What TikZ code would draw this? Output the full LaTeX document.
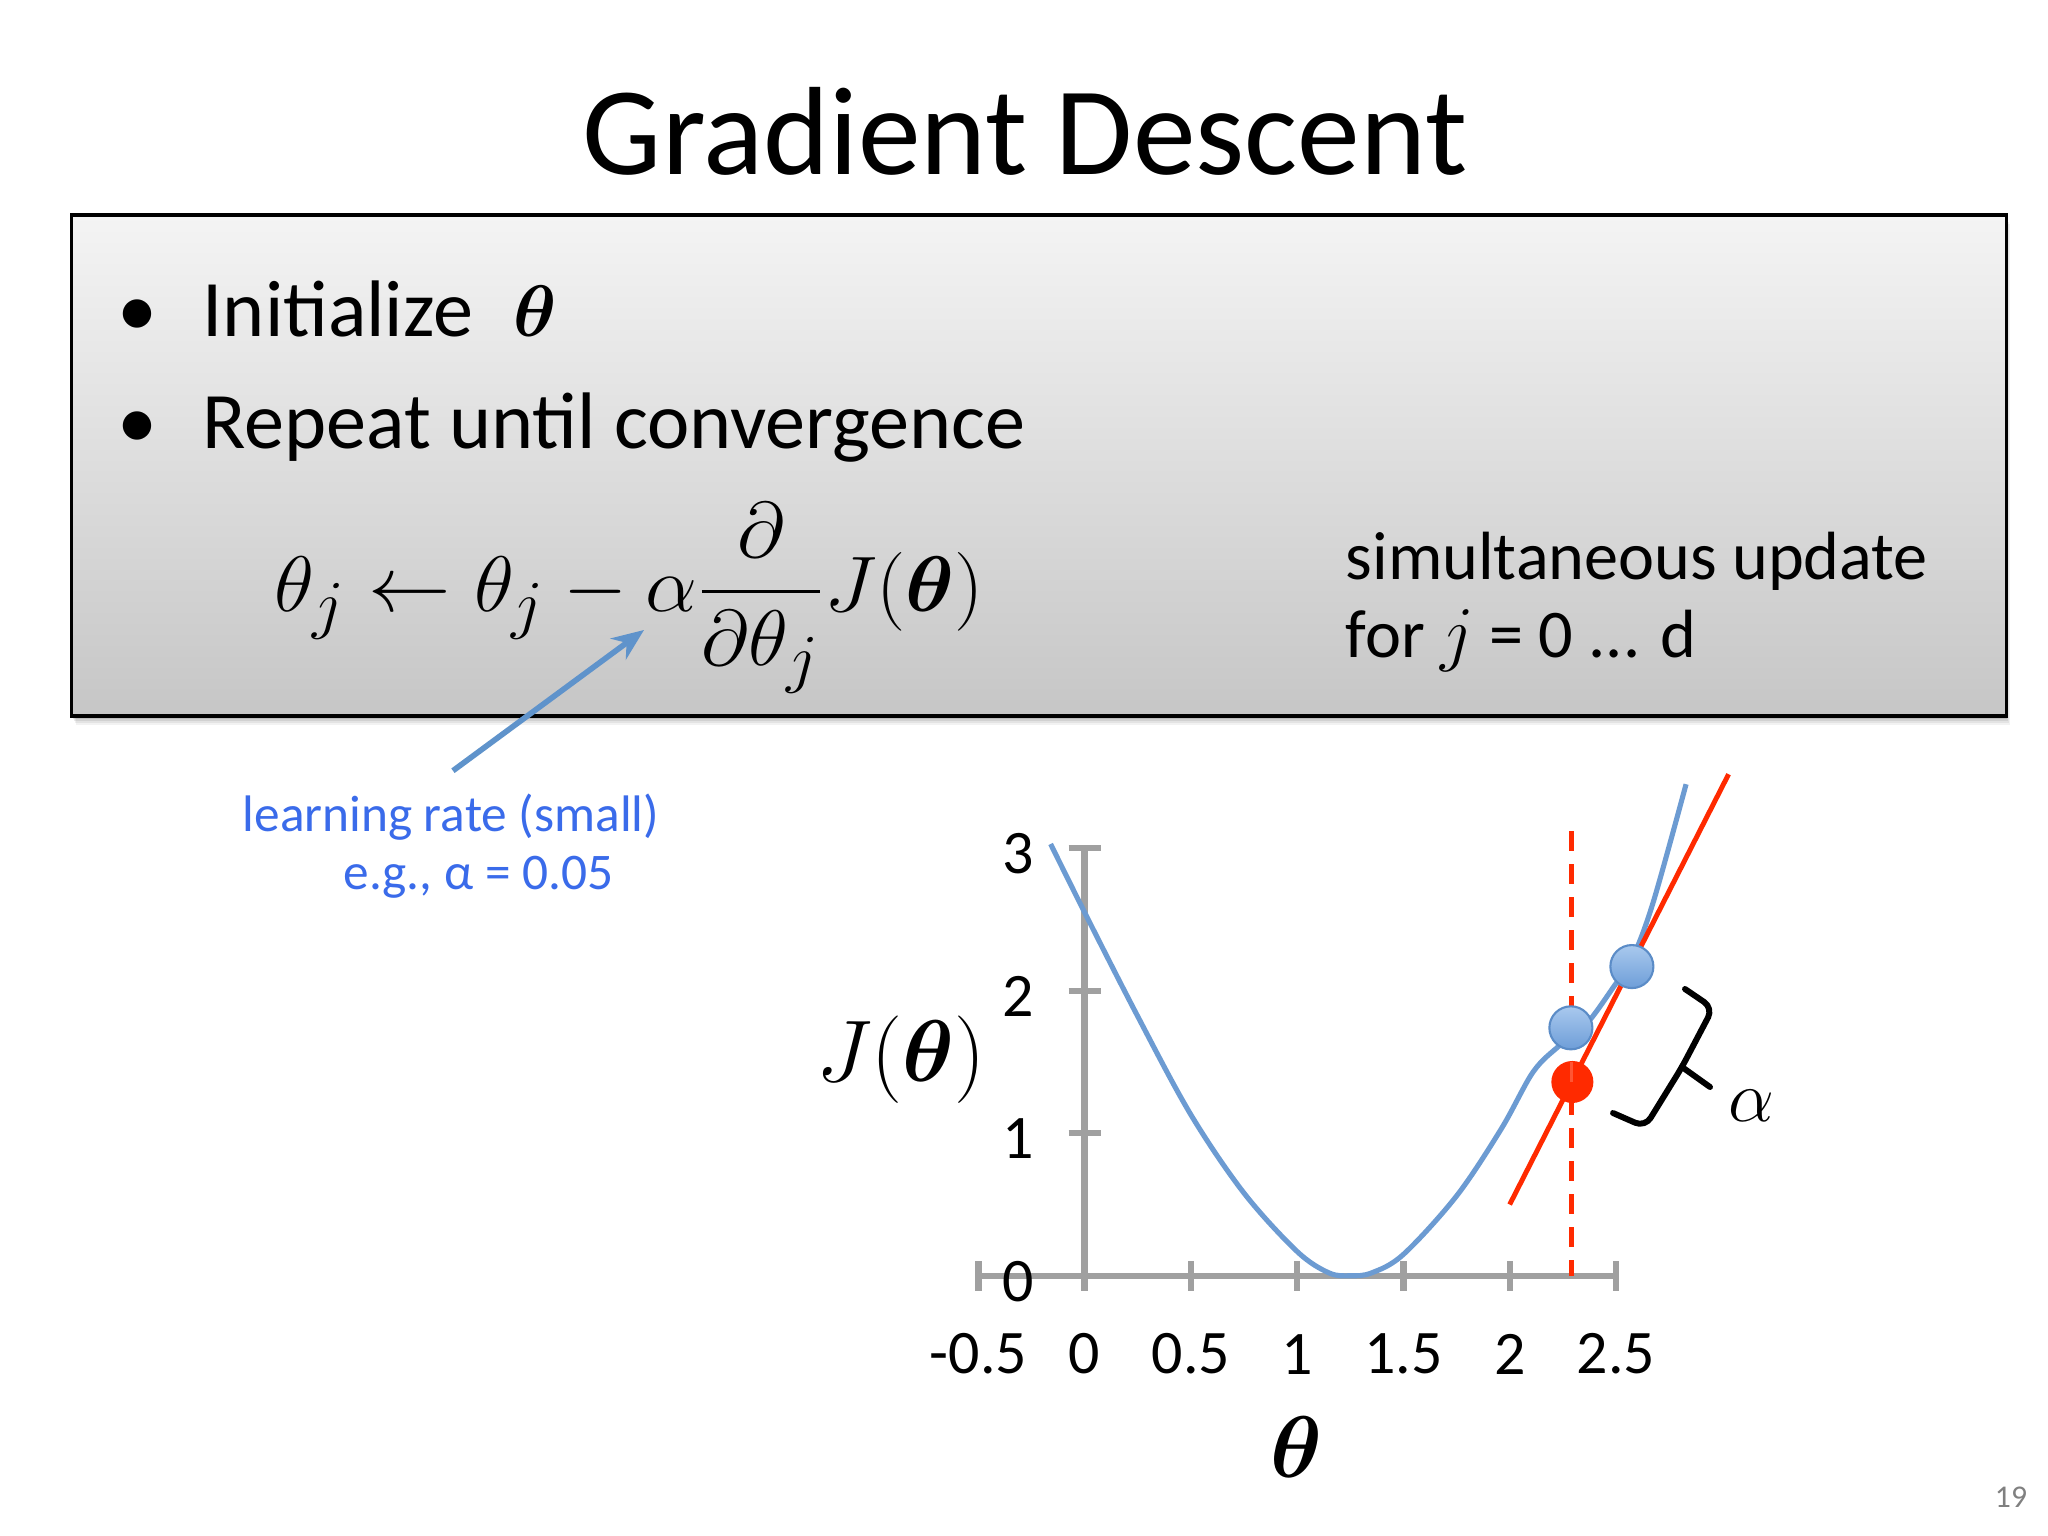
\documentclass[tikz,border=0pt]{standalone}
\usepackage{amsmath,bm,graphicx}
\usepackage{fontspec}
\setmainfont{Carlito}
\usetikzlibrary{arrows.meta}
\definecolor{curveblue}{HTML}{6C9BD2}
\definecolor{arrowblue}{HTML}{5F93CB}
\definecolor{textblue}{HTML}{3A6BEA}
\definecolor{axisgray}{HTML}{A0A0A0}
\definecolor{redline}{HTML}{FF2A00}
\definecolor{boxtop}{HTML}{F4F4F4}
\definecolor{boxbot}{HTML}{C6C6C6}
\definecolor{dotedge}{HTML}{5B8CC7}
\definecolor{dotlight}{HTML}{A9C9EE}
\definecolor{dotdark}{HTML}{6E9ED8}
\tikzset{
  axisline/.style={axisgray, line width=1.8pt},
  curveline/.style={curveblue, line width=1.45pt},
  redl/.style={redline, line width=1.4pt},
  ticklab/.style={font=\fontsize{17.6}{20}\selectfont},
  bigtxt/.style={font=\fontsize{22.8}{26}\selectfont, inner sep=0pt},
  midtxt/.style={font=\fontsize{19.4}{23}\selectfont, inner sep=0pt},
  bluetxt/.style={font=\fontsize{14.6}{17}\selectfont, text=textblue, inner sep=0pt},
  bluedot/.style={draw=dotedge, line width=0.6pt, top color=dotlight, bottom color=dotdark},
}
\begin{document}
\begin{tikzpicture}[x=0.01cm,y=-0.01cm]
\useasboundingbox (0,0) rectangle (2048,1536);
\fill[white] (0,0) rectangle (2048,1536);

% title
\node[anchor=base, font=\fontsize{35.7}{42}\selectfont, inner sep=0pt] (title) at (1025,174) {Gradient Descent};

% shadow of box
\foreach \d/\o in {9/0.05,7/0.06,5/0.08,3/0.10}{
  \fill[black, opacity=\o] (72+\d*0.4,215+\d) rectangle (2006+\d*0.4,716+\d);
}
% box
\node[draw=black, line width=1pt, top color=boxtop, bottom color=boxbot,
      minimum width=19.34cm, minimum height=5.01cm, inner sep=0pt] (box) at (1039,465.5) {};

% bullets
\node[bigtxt, anchor=base] (dot1) at (137,336) {•};
\node[bigtxt, anchor=base west] (b1) at (202,336) {Initialize\hspace{0.5em}$\boldsymbol{\theta}$};
\node[bigtxt, anchor=base] (dot2) at (137,448) {•};
\node[bigtxt, anchor=base west] (b2) at (202,448) {Repeat until convergence};

% formula
\node[anchor=base west, inner sep=0pt, font=\fontsize{24.88}{30}\selectfont] (formula) at (274,611)
  {\scalebox{0.943}[0.9]{$\displaystyle \theta_j \leftarrow \theta_j - \alpha \frac{\partial}{\partial\theta_j} J(\boldsymbol{\theta})$}};

% simultaneous update
\node[midtxt, anchor=base west] (sim1) at (1345,579) {simultaneous update};
\node[midtxt, anchor=base west] (sim2) at (1345,657) {for $j$ = 0 ... d};

% learning rate
\node[bluetxt, anchor=base west] (lr1) at (242,831) {learning rate (small)};
\node[bluetxt, anchor=base west] (lr2) at (343,889) {e.g., α = 0.05};
\coordinate (atip) at (644,630);
\draw[arrowblue, line width=1.6pt, -{Stealth[length=0.32cm,width=0.26cm]}] ([xshift=0.02cm, yshift=0.22cm]lr1.north) -- (atip);

% plot
\begin{scope}[shift={(10.84cm,-12.75cm)}, x=2.124cm, y=1.424cm]
  \draw[axisline] (-0.5,0) -- (2.5,0);
  \draw[axisline] (0,0) -- (0,3);
  \foreach \t in {-0.5,0,0.5,1,1.5,2,2.5}{
    \draw[axisline] (\t,-0.105) -- (\t,0.105);
  }
  \foreach \t in {1,2,3}{
    \draw[axisline] (-0.075,\t) -- (0.075,\t);
  }
  \foreach \t/\l in {3/3,2/2,1/1,0/0}{
    \node[ticklab] (ylab\l) at (-0.315,\t-0.04) {\l};
  }
  \foreach \t/\l/\n in {-0.5/-0.5/a,0/0/b,0.5/0.5/c,1/1/d,1.5/1.5/e,2/2/f,2.5/2.5/g}{
    \node[ticklab] (xlab\n) at (\t,-0.55) {\l};
  }
  % dashed vertical
  \draw[redl, dash pattern=on 0.2cm off 0.13cm] (2.29,3.12) -- (2.29,0);
  % curve
  \draw[curveline] plot[smooth, tension=0.55] coordinates {
    (-0.16,3.03) (0,2.55) (0.25,1.82) (0.5,1.13) (0.75,0.58) (1.0,0.17)
    (1.15,0.02) (1.25,0) (1.35,0.02) (1.5,0.15) (1.75,0.56) (1.96,1.03)
    (2.11,1.43) (2.23,1.61) (2.30,1.69) (2.38,1.80) (2.49,2.03) (2.575,2.22)
    (2.675,2.62) (2.83,3.45)};
  % tangent
  \draw[redl] (2.0,0.5) -- (3.03,3.52);
  % dots
  \path[bluedot] (2.575,2.17) circle[radius=0.215cm];
  \path[bluedot] (2.288,1.74) circle[radius=0.215cm];
  \fill[redline] (2.295,1.36) circle[radius=0.21cm];
  \draw[redline!80!white, line width=0.8pt] (2.29,1.36) -- (2.29,1.50);
\end{scope}

% axis labels
\node[font=\fontsize{24.88}{30}\selectfont] (jlab) at (901,1060) {$J(\boldsymbol{\theta})$};
\node[font=\fontsize{24.88}{30}\selectfont] (thlab) at (1296,1447) {$\boldsymbol{\theta}$};

% brace
\coordinate (p1) at (1685,989);
\coordinate (p2) at (1713,1008);
\coordinate (p3) at (1682,1067);
\coordinate (p4) at (1645,1127);
\coordinate (p5) at (1613,1113);
\coordinate (sp) at (1710,1087);
\draw[black, line width=1.7pt, line join=round, line cap=round, rounded corners=3pt]
  (p1) -- (p2) -- (p3) -- (p4) -- (p5);
\draw[black, line width=1.7pt, line cap=round] (p3) -- (sp);
\node[font=\fontsize{20.74}{24}\selectfont] (alab) at (1751,1106) {$\alpha$};

% page number
\node[text=gray, font=\fontsize{9}{10}\selectfont] (pg) at (2011,1497) {19};
\end{tikzpicture}
\end{document}
